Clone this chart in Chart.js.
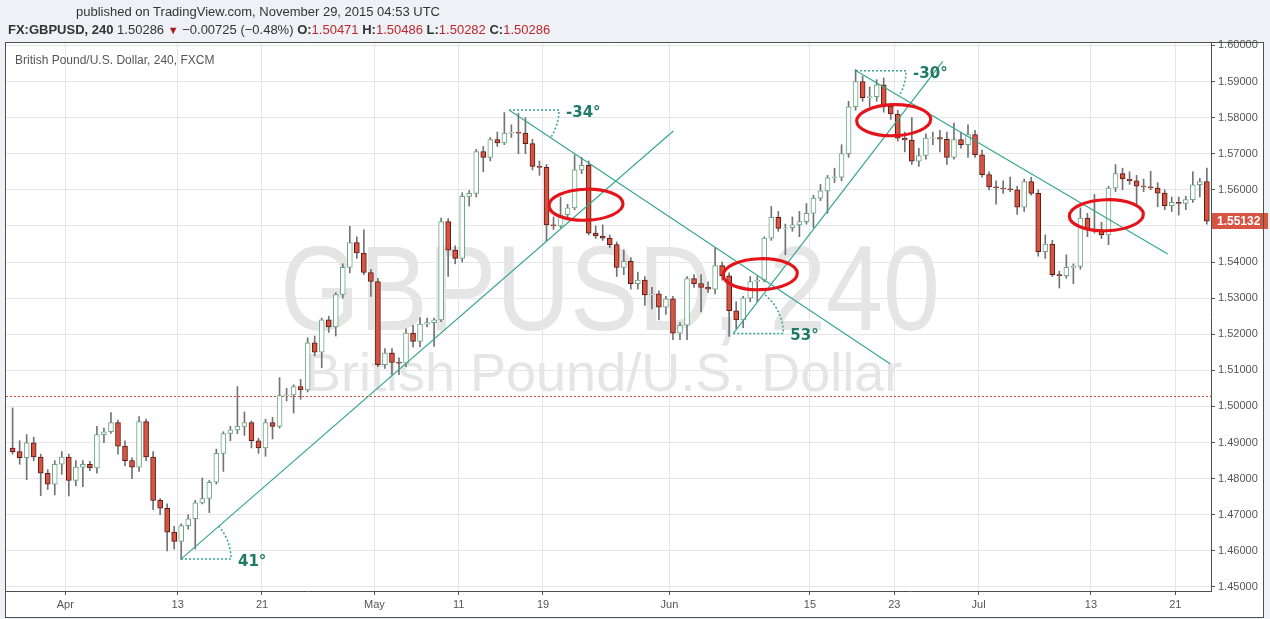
<!DOCTYPE html>
<html>
<head>
<meta charset="utf-8">
<script src="https://cdn.jsdelivr.net/npm/chart.js@4.4.0/dist/chart.umd.min.js"></script>
<style>
  html, body { margin: 0; padding: 0; background: #eef1f5; }
  body { width: 1270px; height: 619px; position: relative; overflow: hidden; font-family: "Liberation Sans", Arial, sans-serif; }
  #box { position: absolute; left: 6px; top: 43px; width: 1257px; height: 575px; background: #fff; }
  .wm { position: absolute; white-space: nowrap; color: #e5e5e5; line-height: 1; transform-origin: 0 0; }
  #wm1 { left: 280px; top: 228px; font-size: 120px; transform: scaleX(0.853); }
  #wm2 { left: 305px; top: 345px; font-size: 54px; }
  #chartWrap { position: absolute; left: 0; top: 0; width: 1270px; height: 619px; }
  #pub { position: absolute; left: 76px; top: 4px; font-size: 13px; color: #333; white-space: nowrap; }
  #sym { position: absolute; left: 8px; top: 22px; font-size: 13px; color: #333; white-space: nowrap; }
  #sym .r { color: #c0262d; }
  #sym .dn { color: #a31b1b; font-size: 11px; }
  #title { position: absolute; left: 15px; top: 53px; font-size: 12px; color: #555; white-space: nowrap; }
</style>
</head>
<body>
<div id="box"></div>
<div class="wm" id="wm1">GBPUSD, 240</div>
<div class="wm" id="wm2">British Pound/U.S. Dollar</div>
<div id="chartWrap"><canvas id="chart" width="1270" height="619"></canvas></div>
<div id="pub">published on TradingView.com, November 29, 2015 04:53 UTC</div>
<div id="sym"><b>FX:GBPUSD, 240</b> 1.50286 <span class="dn">▼</span> −0.00725 (−0.48%) <b>O:</b><span class="r">1.50471</span> <b>H:</b><span class="r">1.50486</span> <b>L:</b><span class="r">1.50282</span> <b>C:</b><span class="r">1.50286</span></div>
<div id="title">British Pound/U.S. Dollar, 240, FXCM</div>
<script>
// half-day candles, Mar 26 – Jul 23 2015 (two per trading day)
const opens = [
  1.4885, 1.4875, 1.4858, 1.4899, 1.4860, 1.4815, 1.4785, 1.4840, 1.4860, 1.4795,
  1.4832, 1.4840, 1.4830, 1.4922, 1.4930, 1.4955, 1.4890, 1.4850, 1.4832, 1.4958,
  1.4860, 1.4740, 1.4718, 1.4652, 1.4626, 1.4670, 1.4689, 1.4733, 1.4745, 1.4790,
  1.4870, 1.4925, 1.4935, 1.4945, 1.4955, 1.4905, 1.4885, 1.4955, 1.4945, 1.5030,
  1.5032, 1.5055, 1.5046, 1.5176, 1.5150, 1.5240, 1.5220, 1.5310, 1.5385, 1.5454,
  1.5425, 1.5371, 1.5346, 1.5116, 1.5148, 1.5122, 1.5120, 1.5203, 1.5180, 1.5228,
  1.5232, 1.5240, 1.5512, 1.5433, 1.5410, 1.5582, 1.5590, 1.5706, 1.5690, 1.5739,
  1.5730, 1.5757, 1.5760, 1.5757, 1.5728, 1.5665, 1.5662, 1.5503, 1.5500, 1.5531,
  1.5550, 1.5655, 1.5668, 1.5480, 1.5472, 1.5466, 1.5448, 1.5385, 1.5402, 1.5340,
  1.5350, 1.5309, 1.5312, 1.5275, 1.5298, 1.5203, 1.5225, 1.5354, 1.5340, 1.5330,
  1.5325, 1.5390, 1.5362, 1.5265, 1.5240, 1.5300, 1.5346, 1.5350, 1.5466, 1.5524,
  1.5493, 1.5495, 1.5503, 1.5512, 1.5535, 1.5577, 1.5597, 1.5633, 1.5635, 1.5700,
  1.5830, 1.5900, 1.5855, 1.5858, 1.5891, 1.5831, 1.5810, 1.5743, 1.5738, 1.5679,
  1.5695, 1.5743, 1.5745, 1.5740, 1.5690, 1.5739, 1.5725, 1.5753, 1.5697, 1.5642,
  1.5608, 1.5605, 1.5603, 1.5600, 1.5552, 1.5623, 1.5590, 1.5429, 1.5450, 1.5365,
  1.5362, 1.5385, 1.5388, 1.5522, 1.5490, 1.5486, 1.5475, 1.5605, 1.5645, 1.5630,
  1.5625, 1.5610, 1.5608, 1.5605, 1.5591, 1.5556, 1.5565, 1.5562, 1.5573, 1.5614,
  1.5623
];
const highs = [
  1.4996, 1.4905, 1.4922, 1.4915, 1.4868, 1.4825, 1.4850, 1.4875, 1.4868, 1.4850,
  1.4850, 1.4848, 1.4945, 1.4940, 1.4983, 1.4962, 1.4905, 1.4858, 1.4972, 1.4965,
  1.4875, 1.4745, 1.4730, 1.4668, 1.4675, 1.4700, 1.4740, 1.4802, 1.4795, 1.4882,
  1.4930, 1.4945, 1.5055, 1.4985, 1.4960, 1.4912, 1.4965, 1.4970, 1.5080, 1.5050,
  1.5060, 1.5075, 1.5190, 1.5195, 1.5245, 1.5250, 1.5315, 1.5395, 1.5499, 1.5470,
  1.5489, 1.5380, 1.5355, 1.5160, 1.5160, 1.5135, 1.5215, 1.5225, 1.5246, 1.5245,
  1.5245, 1.5522, 1.5520, 1.5445, 1.5592, 1.5598, 1.5712, 1.5720, 1.5745, 1.5760,
  1.5814, 1.5780, 1.5812, 1.5800, 1.5740, 1.5680, 1.5670, 1.5525, 1.5580, 1.5560,
  1.5697, 1.5690, 1.5680, 1.5500, 1.5503, 1.5475, 1.5455, 1.5434, 1.5412, 1.5372,
  1.5360, 1.5330, 1.5320, 1.5305, 1.5305, 1.5232, 1.5360, 1.5365, 1.5365, 1.5345,
  1.5439, 1.5400, 1.5370, 1.5290, 1.5305, 1.5360, 1.5360, 1.5470, 1.5554, 1.5540,
  1.5505, 1.5525, 1.5540, 1.5562, 1.5585, 1.5615, 1.5640, 1.5660, 1.5725, 1.5845,
  1.5933, 1.5915, 1.5885, 1.5905, 1.5910, 1.5840, 1.5820, 1.5760, 1.5800, 1.5715,
  1.5755, 1.5760, 1.5765, 1.5760, 1.5785, 1.5760, 1.5780, 1.5765, 1.5710, 1.5650,
  1.5625, 1.5625, 1.5635, 1.5610, 1.5630, 1.5635, 1.5600, 1.5475, 1.5460, 1.5375,
  1.5420, 1.5395, 1.5550, 1.5535, 1.5587, 1.5510, 1.5610, 1.5670, 1.5660, 1.5650,
  1.5640, 1.5630, 1.5651, 1.5620, 1.5600, 1.5580, 1.5580, 1.5582, 1.5650, 1.5632,
  1.5660
];
const lows = [
  1.4868, 1.4840, 1.4797, 1.4850, 1.4753, 1.4770, 1.4755, 1.4812, 1.4752, 1.4780,
  1.4778, 1.4822, 1.4815, 1.4900, 1.4925, 1.4868, 1.4835, 1.4800, 1.4820, 1.4850,
  1.4714, 1.4700, 1.4600, 1.4605, 1.4576, 1.4660, 1.4605, 1.4730, 1.4706, 1.4785,
  1.4820, 1.4905, 1.4925, 1.4920, 1.4885, 1.4870, 1.4862, 1.4910, 1.4940, 1.5015,
  1.4982, 1.5020, 1.5040, 1.5140, 1.5107, 1.5205, 1.5195, 1.5300, 1.5370, 1.5410,
  1.5365, 1.5305, 1.5110, 1.5105, 1.5088, 1.5088, 1.5110, 1.5165, 1.5165, 1.5220,
  1.5166, 1.5235, 1.5360, 1.5395, 1.5400, 1.5555, 1.5580, 1.5650, 1.5680, 1.5720,
  1.5725, 1.5745, 1.5700, 1.5700, 1.5655, 1.5640, 1.5458, 1.5490, 1.5495, 1.5520,
  1.5545, 1.5645, 1.5475, 1.5465, 1.5460, 1.5440, 1.5360, 1.5365, 1.5325, 1.5325,
  1.5280, 1.5270, 1.5240, 1.5255, 1.5185, 1.5185, 1.5185, 1.5330, 1.5262, 1.5315,
  1.5312, 1.5350, 1.5194, 1.5215, 1.5218, 1.5290, 1.5290, 1.5345, 1.5460, 1.5485,
  1.5420, 1.5485, 1.5470, 1.5505, 1.5495, 1.5570, 1.5535, 1.5620, 1.5625, 1.5690,
  1.5820, 1.5845, 1.5830, 1.5845, 1.5815, 1.5795, 1.5735, 1.5705, 1.5670, 1.5665,
  1.5685, 1.5725, 1.5705, 1.5670, 1.5685, 1.5715, 1.5690, 1.5690, 1.5635, 1.5600,
  1.5560, 1.5590, 1.5595, 1.5532, 1.5540, 1.5585, 1.5416, 1.5410, 1.5360, 1.5328,
  1.5355, 1.5340, 1.5380, 1.5470, 1.5480, 1.5465, 1.5448, 1.5595, 1.5600, 1.5615,
  1.5560, 1.5595, 1.5600, 1.5553, 1.5545, 1.5540, 1.5530, 1.5545, 1.5565, 1.5580,
  1.5505
];
const closes = [
  1.4875, 1.4858, 1.4899, 1.4860, 1.4815, 1.4785, 1.4840, 1.4860, 1.4795, 1.4832,
  1.4840, 1.4830, 1.4922, 1.4930, 1.4955, 1.4890, 1.4850, 1.4832, 1.4958, 1.4860,
  1.4740, 1.4718, 1.4652, 1.4626, 1.4670, 1.4689, 1.4733, 1.4745, 1.4790, 1.4870,
  1.4925, 1.4935, 1.4945, 1.4955, 1.4905, 1.4885, 1.4955, 1.4945, 1.5030, 1.5032,
  1.5055, 1.5046, 1.5176, 1.5150, 1.5240, 1.5220, 1.5310, 1.5385, 1.5454, 1.5425,
  1.5371, 1.5346, 1.5116, 1.5148, 1.5122, 1.5120, 1.5203, 1.5180, 1.5228, 1.5232,
  1.5240, 1.5512, 1.5433, 1.5410, 1.5582, 1.5590, 1.5706, 1.5690, 1.5739, 1.5730,
  1.5757, 1.5760, 1.5757, 1.5728, 1.5665, 1.5662, 1.5503, 1.5500, 1.5531, 1.5550,
  1.5655, 1.5668, 1.5480, 1.5472, 1.5466, 1.5448, 1.5385, 1.5402, 1.5340, 1.5350,
  1.5309, 1.5312, 1.5275, 1.5298, 1.5203, 1.5225, 1.5354, 1.5340, 1.5330, 1.5325,
  1.5390, 1.5362, 1.5265, 1.5240, 1.5300, 1.5346, 1.5350, 1.5466, 1.5524, 1.5493,
  1.5495, 1.5503, 1.5512, 1.5535, 1.5577, 1.5597, 1.5633, 1.5635, 1.5700, 1.5830,
  1.5900, 1.5855, 1.5858, 1.5891, 1.5831, 1.5810, 1.5743, 1.5738, 1.5679, 1.5695,
  1.5743, 1.5745, 1.5740, 1.5690, 1.5739, 1.5725, 1.5753, 1.5697, 1.5642, 1.5608,
  1.5605, 1.5603, 1.5600, 1.5552, 1.5623, 1.5590, 1.5429, 1.5450, 1.5365, 1.5362,
  1.5385, 1.5388, 1.5522, 1.5490, 1.5486, 1.5475, 1.5605, 1.5645, 1.5630, 1.5625,
  1.5610, 1.5608, 1.5605, 1.5591, 1.5556, 1.5565, 1.5562, 1.5573, 1.5614, 1.5623,
  1.55132
];

// x axis: trading-day index of each date label (2 candles per day)
const tickDays = [4, 12, 18, 26, 32, 38, 47, 57, 63, 69, 77, 83];
const tickLabels = ['Apr', '13', '21', 'May', '11', '19', 'Jun', '15', '23', 'Jul', '13', '21'];
const priceTicks = [1.45, 1.46, 1.47, 1.48, 1.49, 1.50, 1.51, 1.52, 1.53, 1.54, 1.55, 1.56, 1.57, 1.58, 1.59, 1.60];

const lastPrice = 1.55132;
const currentPrice = 1.50286;

// drawings: [x1, price1, x2, price2] in candle units
const trendLines = [
  [24.47, 1.45773, 94.55, 1.57629],
  [71.16, 1.58211, 125.40, 1.51183],
  [103.09, 1.52022, 132.90, 1.59557],
  [120.56, 1.59299, 164.93, 1.54222]
];
const angleLabels = ['41°', '-34°', '53°', '-30°'];
const circleX = [82.12, 106.93, 125.92, 156.19];
const circleY = [1.55587, 1.53662, 1.57928, 1.55296];

const idx = closes.map((c, i) => i + 0.5);
const wickData = idx.map((x, i) => ({ x: x, y: [lows[i], highs[i]] }));
const bodyData = idx.map((x, i) => ({ x: x, y: [opens[i], closes[i]] }));
const isUp = closes.map((c, i) => c >= opens[i]);

const teal = '#36a78e';
const tealText = '#1f7a68';

const overlay = {
  id: 'overlay',
  beforeDatasetsDraw(chart) {
    const ctx = chart.ctx, a = chart.chartArea, y = chart.scales.y.getPixelForValue(currentPrice);
    ctx.save();
    ctx.strokeStyle = '#d0493a';
    ctx.lineWidth = 1;
    ctx.setLineDash([2, 2]);
    ctx.beginPath();
    ctx.moveTo(a.left, Math.round(y) + 0.5);
    ctx.lineTo(a.right, Math.round(y) + 0.5);
    ctx.stroke();
    ctx.restore();
  },
  afterDatasetsDraw(chart) {
    const ctx = chart.ctx, xs = chart.scales.x, ys = chart.scales.y;
    ctx.save();
    trendLines.forEach((t, i) => {
      const x1 = xs.getPixelForValue(t[0]), y1 = ys.getPixelForValue(t[1]);
      const x2 = xs.getPixelForValue(t[2]), y2 = ys.getPixelForValue(t[3]);
      ctx.setLineDash([]);
      ctx.strokeStyle = teal;
      ctx.lineWidth = 1.2;
      ctx.beginPath();
      ctx.moveTo(x1, y1);
      ctx.lineTo(x2, y2);
      ctx.stroke();
      // angle marker
      const ang = Math.atan2(y2 - y1, x2 - x1);
      ctx.setLineDash([2, 2]);
      ctx.lineWidth = 1.5;
      ctx.beginPath();
      ctx.moveTo(x1, y1);
      ctx.lineTo(x1 + 50, y1);
      ctx.arc(x1, y1, 50, 0, ang, ang < 0);
      ctx.stroke();
      ctx.setLineDash([]);
      ctx.fillStyle = tealText;
      ctx.font = 'bold 15px "DejaVu Sans", sans-serif';
      ctx.textBaseline = 'middle';
      ctx.fillText(angleLabels[i], x1 + 57, y1 + 3);
    });
    ctx.strokeStyle = '#e5141b';
    ctx.lineWidth = 3.2;
    circleX.forEach((cx, i) => {
      ctx.beginPath();
      ctx.ellipse(xs.getPixelForValue(cx), ys.getPixelForValue(circleY[i]), 37, 15.5, -0.03, 0, Math.PI * 2);
      ctx.stroke();
    });
    ctx.restore();
  },
  afterDraw(chart) {
    const ctx = chart.ctx, a = chart.chartArea, y = chart.scales.y.getPixelForValue(lastPrice);
    ctx.save();
    ctx.fillStyle = '#d75442';
    ctx.fillRect(a.right + 1, Math.round(y) - 8, 56, 16);
    ctx.fillStyle = '#fff';
    ctx.font = 'bold 12px "Liberation Sans", Arial, sans-serif';
    ctx.textBaseline = 'middle';
    ctx.fillText(lastPrice.toFixed(5), a.right + 6, Math.round(y) + 0.5);
    ctx.strokeStyle = '#505050';
    ctx.lineWidth = 1;
    ctx.strokeRect(5.5, 42.5, 1258, 575);
    ctx.restore();
  }
};

new Chart(document.getElementById('chart'), {
  type: 'bar',
  data: {
    datasets: [
      {
        label: 'body',
        data: bodyData,
        order: 0,
        grouped: false,
        barThickness: 5,
        backgroundColor: isUp.map(u => u ? '#ffffff' : '#d75442'),
        borderColor: isUp.map(u => u ? '#6ba583' : '#5b1a13'),
        borderWidth: 1,
        borderSkipped: false
      },
      {
        label: 'wick',
        data: wickData,
        order: 1,
        grouped: false,
        barThickness: 1,
        backgroundColor: '#737375',
        borderWidth: 0
      }
    ]
  },
  options: {
    responsive: false,
    animation: false,
    events: [],
    layout: { padding: { left: 6, top: 43, right: 7, bottom: 1 } },
    plugins: { legend: { display: false }, tooltip: { enabled: false } },
    scales: {
      x: {
        type: 'linear',
        min: -0.441,
        max: 171.09,
        offset: false,
        afterBuildTicks: s => { s.ticks = tickDays.map(d => ({ value: d * 2 })); },
        afterFit: s => { s.height = 27; },
        grid: { color: '#e6e6e6', offset: false, tickLength: 4, tickColor: '#555' },
        border: { color: '#505050' },
        ticks: {
          autoSkip: false, maxRotation: 0, padding: 3, color: '#555',
          font: { family: '"Liberation Sans", Arial, sans-serif', size: 11 },
          callback: (v, i) => tickLabels[i]
        }
      },
      y: {
        position: 'right',
        min: 1.44889,
        max: 1.60066,
        afterBuildTicks: s => { s.ticks = priceTicks.map(v => ({ value: v })); },
        afterFit: s => { s.width = 52; },
        grid: { color: '#e6e6e6', tickLength: 4, tickColor: '#555' },
        border: { color: '#505050' },
        ticks: {
          padding: 3, color: '#555',
          font: { family: '"Liberation Sans", Arial, sans-serif', size: 11 },
          callback: v => v.toFixed(5)
        }
      }
    }
  },
  plugins: [overlay]
});
</script>
</body>
</html>
